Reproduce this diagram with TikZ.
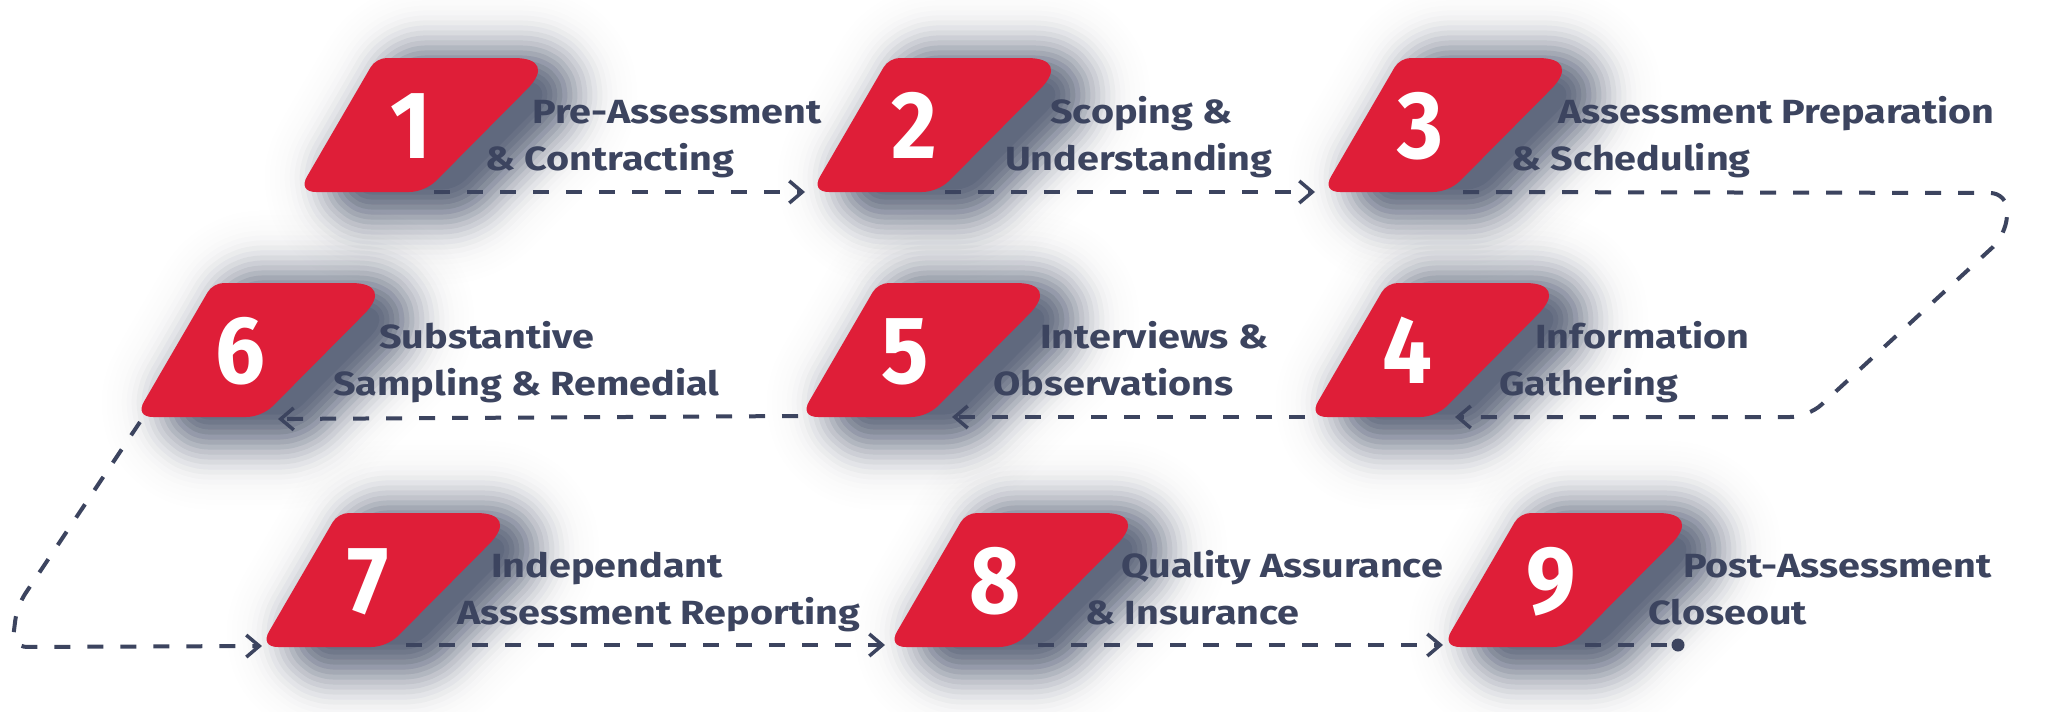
\documentclass[tikz,border=0pt]{standalone}
\usepackage{fontspec}
\setmainfont{Fira Sans}
\newfontfamily\labelfont{Fira Sans}[FakeStretch=1.18]
\newfontfamily\numfont{Fira Sans}[FakeStretch=0.92]
\usetikzlibrary{arrows.meta}
\definecolor{redc}{RGB}{223,30,56}
\definecolor{darkc}{RGB}{60,68,95}
\definecolor{shadowc}{RGB}{52,64,92}
\newcommand\sshape{(11,0) -- (138,0) .. controls (164.4,0) and (169.6,12.5) .. (151,31.2) -- (60.3,122.6) .. controls (53.5,129.4) and (42.6,134) .. (33,134) -- (-60,134) .. controls (-70.8,134) and (-74.4,127.8) .. (-68.9,118.4) -- (-5.5,9.5) .. controls (-2.2,3.8) and (4.4,0) .. (11,0) -- cycle}
\newcommand\stepshadow[2]{%
  \foreach \w/\op in {8/0.107,16/0.118,24/0.129,32/0.132,40/0.128,48/0.119,56/0.109,64/0.094,72/0.079,80/0.066,88/0.052,96/0.039,104/0.030,112/0.020,120/0.013,128/0.009,136/0.005,144/0.003,152/0.002,160/0.002}{%
    \begin{scope}[shift={(#1+28,#2+10)}, shift={(52,67)}, scale=0.74, shift={(-52,-67)}, transparency group, opacity=\op]
      \filldraw[shadowc, line width=1.25*\w pt, line join=round] \sshape;
    \end{scope}}}
\newcommand\stepfill[2]{%
  \begin{scope}[shift={(#1,#2)}]
    \fill[redc] \sshape;
  \end{scope}}
\tikzset{
  numstyle/.style={font=\numfont\bfseries\fontsize{96}{96}\selectfont, text=white, anchor=base, inner sep=0pt},
  lblstyle/.style={font=\labelfont\bfseries\fontsize{33.5}{40}\selectfont, text=darkc, anchor=base west, inner sep=0pt},
  conn/.style={draw=darkc, line width=4pt, dash pattern=on 16pt off 17pt, line cap=butt},
  arr/.style={-{Straight Barb[length=13pt,width=22pt,line width=3.5pt]}},
}
\begin{document}
\begin{tikzpicture}[x=1pt,y=-1pt]
\useasboundingbox (0,0) rectangle (2048,712);
\fill[white] (0,0) rectangle (2048,712);
% shadows
\stepshadow{376}{58}\stepshadow{889}{58}\stepshadow{1400}{58}
\stepshadow{213}{283}\stepshadow{878}{283}\stepshadow{1387}{283}
\stepshadow{338}{513}\stepshadow{966}{513}\stepshadow{1520}{513}
% connector end points
\coordinate (a1) at (434,192); \coordinate (b2) at (805,192);
\coordinate (a2) at (945,192); \coordinate (b3) at (1315,192);
\coordinate (a3) at (1463,192); \coordinate (k1) at (2008,193); \coordinate (k2) at (2006,235); \coordinate (k3) at (1808,417); \coordinate (b4) at (1455,417);
\coordinate (a4) at (1305,417); \coordinate (b5) at (952,417);
\coordinate (a5) at (798,416); \coordinate (b6) at (278,419);
\coordinate (a6) at (140,422); \coordinate (m1) at (17,606); \coordinate (m2) at (12,647); \coordinate (b7) at (262,646);
\coordinate (a7) at (406,645); \coordinate (b8) at (885,645);
\coordinate (a8) at (1038,645); \coordinate (b9) at (1443,645);
\coordinate (a9) at (1585,645); \coordinate (e9) at (1678,645);
% connectors
\draw[conn, arr] (a1) -- (b2);
\draw[conn, arr] (a2) -- (b3);
\draw[conn, arr, rounded corners=18pt] (a3) -- (k1) -- (k2) -- (k3) -- (b4);
\draw[conn, arr] (a4) -- (b5);
\draw[conn, arr] (a5) -- (b6);
\draw[conn, arr, rounded corners=15pt] (a6) -- (m1) -- (m2) -- (b7);
\draw[conn, arr] (a7) -- (b8);
\draw[conn, arr] (a8) -- (b9);
\draw[conn] (a9) -- (e9);
\fill[darkc] (e9) circle (6.5pt);
% shapes
\stepfill{376}{58}\stepfill{889}{58}\stepfill{1400}{58}
\stepfill{213}{283}\stepfill{878}{283}\stepfill{1387}{283}
\stepfill{338}{513}\stepfill{966}{513}\stepfill{1520}{513}
% numbers
\node[numstyle] (n1) at (411,158) {1};
\node[numstyle] (n2) at (914,158) {2};
\node[numstyle] (n3) at (1420,158) {3};
\node[numstyle] (n4) at (1407,383) {4};
\node[numstyle] (n5) at (905,383) {5};
\node[numstyle] (n6) at (240,383) {6};
\node[numstyle] (n7) at (368,613) {7};
\node[numstyle] (n8) at (995,613) {8};
\node[numstyle] (n9) at (1551,613) {9};
% labels
\node[lblstyle] (l1a) at (532,123) {Pre-Assessment};
\node[lblstyle] (l1b) at (485,170) {\& Contracting};
\node[lblstyle] (l2a) at (1050,123) {Scoping \&};
\node[lblstyle] (l2b) at (1005,170) {Understanding};
\node[lblstyle] (l3a) at (1558,123) {Assessment Preparation};
\node[lblstyle] (l3b) at (1511,170) {\& Scheduling};
\node[lblstyle] (l4a) at (1535,348) {Information};
\node[lblstyle] (l4b) at (1499,395) {Gathering};
\node[lblstyle] (l5a) at (1040,348) {Interviews \&};
\node[lblstyle] (l5b) at (993,395) {Observations};
\node[lblstyle] (l6a) at (379,348) {Substantive};
\node[lblstyle] (l6b) at (333,395) {Sampling \& Remedial};
\node[lblstyle] (l7a) at (491,577) {Independant};
\node[lblstyle] (l7b) at (457,624) {Assessment Reporting};
\node[lblstyle] (l8a) at (1121,577) {Quality Assurance};
\node[lblstyle] (l8b) at (1085,624) {\& Insurance};
\node[lblstyle] (l9a) at (1683,577) {Post-Assessment};
\node[lblstyle] (l9b) at (1648,624) {Closeout};
\end{tikzpicture}
\end{document}
